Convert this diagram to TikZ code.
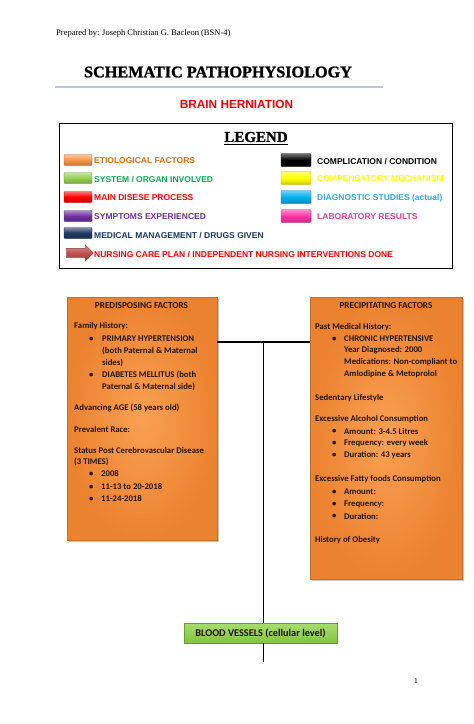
\documentclass[tikz,border=0pt]{standalone}
\usepackage{fontspec}
\setmainfont{Liberation Serif}[BoldFeatures={FakeBold=1.2}]
\newfontfamily\lsans{Liberation Sans}
\newfontfamily\calib{Carlito}
\newfontfamily\plainserif{Liberation Serif}
\usetikzlibrary{shapes.arrows,shadows}
\definecolor{etiot}{HTML}{E36C09}
\definecolor{etios}{HTML}{F79646}
\definecolor{syst}{HTML}{00B050}
\definecolor{syss}{HTML}{92D050}
\definecolor{mainr}{HTML}{FF0000}
\definecolor{symp}{HTML}{7030A0}
\definecolor{medn}{HTML}{1F3864}
\definecolor{compy}{HTML}{FFFF00}
\definecolor{diagt}{HTML}{2EA8E0}
\definecolor{diags}{HTML}{00B0F0}
\definecolor{labt}{HTML}{EC3A93}
\definecolor{labs}{HTML}{FF33A6}
\definecolor{arrowr}{HTML}{C0504D}
\definecolor{rulec}{HTML}{B8C7DB}
\definecolor{boxtxt}{HTML}{24150A}
\definecolor{oin}{HTML}{F9A052}
\definecolor{oout}{HTML}{EB8230}
\definecolor{gtop}{HTML}{A8DC6E}
\definecolor{gbot}{HTML}{82C341}
\tikzset{
  legtxt/.style={anchor=west, inner sep=0pt, font=\lsans\bfseries\fontsize{8.5}{10}\selectfont},
  swatch/.style={minimum width=28pt, minimum height=11pt, inner sep=0pt, rounded corners=0.8pt,
     top color=#1!55!white, bottom color=#1!80!black, middle color=#1, draw=#1!70!black, line width=0.3pt},
  swatchr/.style={swatch=#1, minimum width=30pt, minimum height=13pt},
  obox/.style={anchor=north west, inner sep=0pt, inner color=oin, outer color=oout,
     draw=oout!85!black, line width=0.3pt, drop shadow={shadow xshift=1.5pt, shadow yshift=-1.5pt, fill=black!45}},
  btxt/.style={anchor=west, inner sep=0pt, text=boxtxt, font=\calib\bfseries\fontsize{8.7}{10}\selectfont},
  bhead/.style={inner sep=0pt, text=boxtxt, font=\calib\bfseries\fontsize{9.2}{11}\selectfont},
  conn/.style={line width=1.3pt, black},
  gbox/.style={minimum width=153pt, minimum height=20pt, inner sep=0pt, top color=gtop, bottom color=gbot,
     draw=gbot!80!black, line width=0.3pt, text=boxtxt, font=\calib\bfseries\fontsize{10.3}{12}\selectfont,
     drop shadow={shadow xshift=1pt, shadow yshift=-1pt, fill=black!30}}
}
\begin{document}
\begin{tikzpicture}[x=1pt,y=-1pt]
\useasboundingbox[fill=white] (0,0) rectangle (474,724);

% header
\node[anchor=west, inner sep=0pt, font=\plainserif\fontsize{8.5}{10}\selectfont] (prep) at (56,33) {Prepared by: Joseph Christian G. Bacleon (BSN-4)};
\node[inner sep=0pt, font=\bfseries\fontsize{16.2}{18}\selectfont] (title) at (218,72) {SCHEMATIC PATHOPHYSIOLOGY};
\coordinate (ula) at (55,87);
\coordinate (ulb) at (383,87);
\draw[rulec, line width=1.3pt] (ula) -- (ulb);
\node[inner sep=0pt, text=mainr, font=\lsans\bfseries\fontsize{11.8}{13}\selectfont] (sub) at (236.5,104) {BRAIN HERNIATION};

% legend
\node[draw, line width=1.2pt, minimum width=393pt, minimum height=145pt, anchor=north west] (legend) at (59,123) {};
\node[inner sep=0pt, font=\bfseries\fontsize{15}{17}\selectfont] (legt) at (256,137) {LEGEND};
\draw[line width=1.1pt] ([yshift=-2pt]legt.south west) -- ([yshift=-2pt]legt.south east);

\node[swatch=etios] (s1) at (78,160) {};
\node[swatch=syss] (s2) at (78,178) {};
\node[swatch=mainr] (s3) at (78,197) {};
\node[swatch=symp] (s4) at (78,216) {};
\node[swatch=medn] (s5) at (78,233) {};
\node[single arrow, minimum height=27pt, inner xsep=0pt, inner ysep=4.5pt, single arrow head extend=3.5pt,
      single arrow tip angle=90, top color=arrowr!60!white, bottom color=arrowr!75!black,
      middle color=arrowr, draw=arrowr!70!black, line width=0.3pt] (s6) at (77.5,253) {};

\node[legtxt, text=etiot] (t1) at (94,161) {ETIOLOGICAL FACTORS};
\node[legtxt, text=syst] (t2) at (94,179) {SYSTEM / ORGAN INVOLVED};
\node[legtxt, text=mainr] (t3) at (94,198) {MAIN DISESE PROCESS};
\node[legtxt, text=symp] (t4) at (94,217) {SYMPTOMS EXPERIENCED};
\node[legtxt, text=medn] (t5) at (94,235) {MEDICAL MANAGEMENT / DRUGS GIVEN};
\node[legtxt, text=mainr] (t6) at (94,254) {NURSING CARE PLAN / INDEPENDENT NURSING INTERVENTIONS DONE};

\node[swatchr=black] (r1) at (296,160) {};
\node[swatchr=compy] (r2) at (296,178) {};
\node[swatchr=diags] (r3) at (296,197) {};
\node[swatchr=labs] (r4) at (296,216) {};

\node[legtxt, text=black] (u1) at (317,161) {COMPLICATION / CONDITION};
\node[legtxt, text=compy] (u2) at (317,179) {COMPENSATORY MECHANISM};
\node[legtxt, text=diagt] (u3) at (317,198) {DIAGNOSTIC STUDIES (actual)};
\node[legtxt, text=labt] (u4) at (317,217) {LABORATORY RESULTS};

% boxes
\node[obox, minimum width=150pt, minimum height=243pt] (pre) at (67,297) {};
\node[obox, minimum width=152pt, minimum height=282pt] (prc) at (310,297) {};

\node[bhead] (ph) at (141.5,306) {PREDISPOSING FACTORS};
\node[btxt] (p1) at (74,326) {Family History:};
\node[btxt] (pb1) at (89,339) {\textbullet};
\node[btxt] (p2) at (102,339) {PRIMARY HYPERTENSION};
\node[btxt] (p3) at (102,351) {(both Paternal \& Maternal};
\node[btxt] (p4) at (102,363) {sides)};
\node[btxt] (pb2) at (89,375) {\textbullet};
\node[btxt] (p5) at (102,375) {DIABETES MELLITUS (both};
\node[btxt] (p6) at (102,387) {Paternal \& Maternal side)};
\node[btxt] (p7) at (74,408) {Advancing AGE (58 years old)};
\node[btxt] (p8) at (74,429) {Prevalent Race:};
\node[btxt] (p9) at (74,450) {Status Post Cerebrovascular Disease};
\node[btxt] (p10) at (74,462) {(3 TIMES)};
\node[btxt] (pb3) at (89,474) {\textbullet};
\node[btxt] (p11) at (101,474) {2008};
\node[btxt] (pb4) at (89,487) {\textbullet};
\node[btxt] (p12) at (101,487) {11-13 to 20-2018};
\node[btxt] (pb5) at (89,499) {\textbullet};
\node[btxt] (p13) at (101,499) {11-24-2018};

\node[bhead] (qh) at (386,306) {PRECIPITATING FACTORS};
\node[btxt] (q1) at (315,327) {Past Medical History:};
\node[btxt] (qb1) at (332,339) {\textbullet};
\node[btxt] (q2) at (344,339) {CHRONIC HYPERTENSIVE};
\node[btxt] (q3) at (344,350) {Year Diagnosed: 2000};
\node[btxt] (q4) at (344,362) {Medications: Non-compliant to};
\node[btxt] (q5) at (344,374) {Amlodipine \& Metoprolol};
\node[btxt] (q6) at (315,398) {Sedentary Lifestyle};
\node[btxt] (q7) at (315,419) {Excessive Alcohol Consumption};
\node[btxt] (qb2) at (332,431) {\textbullet};
\node[btxt] (q8) at (344,431) {Amount: 3-4.5 Litres};
\node[btxt] (qb3) at (332,443) {\textbullet};
\node[btxt] (q9) at (344,443) {Frequency: every week};
\node[btxt] (qb4) at (332,455) {\textbullet};
\node[btxt] (q10) at (344,455) {Duration: 43 years};
\node[btxt] (q11) at (315,479) {Excessive Fatty foods Consumption};
\node[btxt] (qb5) at (332,492) {\textbullet};
\node[btxt] (q12) at (344,492) {Amount:};
\node[btxt] (qb6) at (332,504) {\textbullet};
\node[btxt] (q13) at (344,504) {Frequency:};
\node[btxt] (qb7) at (332,516) {\textbullet};
\node[btxt] (q14) at (344,516) {Duration:};
\node[btxt] (q15) at (315,540) {History of Obesity};

% connectors
\coordinate (j) at (263.5,342);
\coordinate (vend) at (263.5,662);
\node[gbox] (bv) at (260.5,633) {BLOOD VESSELS (cellular level)};
\draw[conn] (pre.east |- j) -- (prc.west |- j);
\draw[conn] (j) -- (j |- bv.north);
\draw[conn] (j |- bv.south) -- (vend);

% page number
\node[inner sep=0pt, font=\plainserif\fontsize{7.5}{9}\selectfont] (pg) at (416,681) {1};
\end{tikzpicture}
\end{document}
